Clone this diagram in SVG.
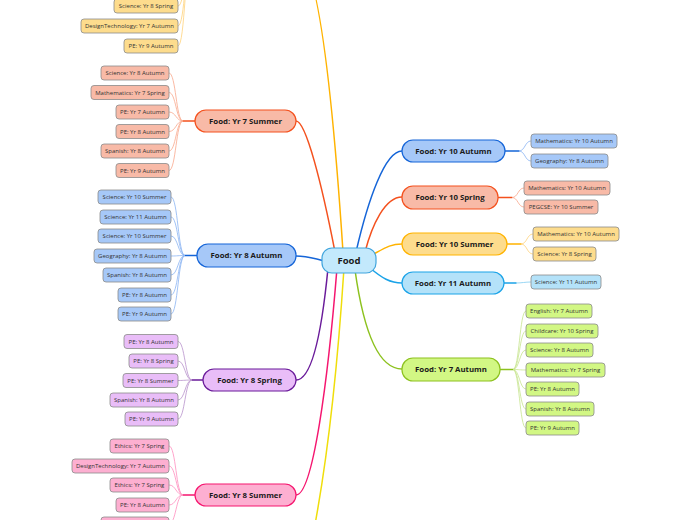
<svg xmlns="http://www.w3.org/2000/svg" width="697" height="520" viewBox="0 0 697 520">
<style>
.bg{fill:#ffffff}
.br{fill:none;stroke-width:1.5;stroke-linecap:round}
.cc{fill:none;stroke-width:0.8}
.ch rect{stroke:#8a8a8a;stroke-width:0.8}
.ch text{font-family:"Open Sans","Noto Sans",sans-serif;font-size:6px;fill:#333333;text-anchor:middle}
.mn rect{stroke-width:1.2}
.mn text{font-family:"Open Sans","Noto Sans",sans-serif;font-size:7.8px;font-weight:bold;fill:#1a1a1a;text-anchor:middle}
.sal rect{fill:#F8BAA7}
.blu rect{fill:#A6C8F8}
.yel rect{fill:#FDDC8D}
.lbl rect{fill:#B4E2F9}
.grn rect{fill:#D2F784}
.pur rect{fill:#E9BDF8}
.pnk rect{fill:#FDAFD1}
</style>
<rect class="bg" x="0" y="0" width="697" height="520"/>
<g id="connectors">
  <!-- main branches -->
  <path class="br" stroke="#FFB300" d="M343,252 C333,100 318,-45 296,-45"/>
  <path class="br" stroke="#F4511E" d="M335,252 C322,185 306,121 296,121"/>
  <path class="br" stroke="#1565D8" d="M325,261 C315,259 308,256 296,256"/>
  <path class="br" stroke="#6A1B9A" d="M328,268 C322,330 312,380 296,380"/>
  <path class="br" stroke="#F5166F" d="M337,268 C328,380 313,495 296,495"/>
  <path class="br" stroke="#F0DE0A" d="M344,268 C338,360 328,460 312,540"/>
  <path class="br" stroke="#1565D8" d="M356,252 C368,200 385,151 402,151"/>
  <path class="br" stroke="#F4511E" d="M365,252 C372,225 385,197 402,197"/>
  <path class="br" stroke="#FFB300" d="M370,256 C385,248 390,244 402,244"/>
  <path class="br" stroke="#1AA3E8" d="M370,268 C382,278 390,283 402,283"/>
  <path class="br" stroke="#8DC21F" d="M355,270 C362,320 375,369 402,369"/>
  <!-- top yellow group -->
  <g stroke="#FFD27A">
    <path class="cc" d="M178,6 C185,6 185,-45 192,-45"/>
    <path class="cc" d="M178,26 C185,26 185,-45 192,-45"/>
    <path class="cc" d="M178,46 C185,46 185,-45 192,-45"/>
  </g>
  <!-- Yr 7 Summer -->
  <path class="br" stroke="#F4511E" d="M195,121 H183"/>
  <g stroke="#F9A78C">
    <path class="cc" d="M169,73 C176,73 176,121 183,121"/>
    <path class="cc" d="M169,92.5 C176,92.5 176,121 183,121"/>
    <path class="cc" d="M169,112 C176,112 176,121 183,121"/>
    <path class="cc" d="M169,131.5 C176,131.5 176,121 183,121"/>
    <path class="cc" d="M169,151 C176,151 176,121 183,121"/>
    <path class="cc" d="M169,170.5 C176,170.5 176,121 183,121"/>
  </g>
  <!-- Yr 8 Autumn -->
  <path class="br" stroke="#1565D8" d="M197,255.5 H185"/>
  <g stroke="#8AB4F2">
    <path class="cc" d="M171,197 C178,197 178,255.5 185,255.5"/>
    <path class="cc" d="M171,217 C178,217 178,255.5 185,255.5"/>
    <path class="cc" d="M171,236 C178,236 178,255.5 185,255.5"/>
    <path class="cc" d="M171,256 C178,256 178,255.5 185,255.5"/>
    <path class="cc" d="M171,275 C178,275 178,255.5 185,255.5"/>
    <path class="cc" d="M171,295 C178,295 178,255.5 185,255.5"/>
    <path class="cc" d="M171,314 C178,314 178,255.5 185,255.5"/>
  </g>
  <!-- Yr 8 Spring -->
  <path class="br" stroke="#6A1B9A" d="M203,380 H192"/>
  <g stroke="#B892CC">
    <path class="cc" d="M178,341.5 C185,341.5 185,380 192,380"/>
    <path class="cc" d="M178,361 C185,361 185,380 192,380"/>
    <path class="cc" d="M178,380.5 C185,380.5 185,380 192,380"/>
    <path class="cc" d="M178,400 C185,400 185,380 192,380"/>
    <path class="cc" d="M178,419 C185,419 185,380 192,380"/>
  </g>
  <!-- Yr 8 Summer -->
  <path class="br" stroke="#F5166F" d="M195,495 H183"/>
  <g stroke="#FF8DBE">
    <path class="cc" d="M169,446 C176,446 176,495 183,495"/>
    <path class="cc" d="M169,466 C176,466 176,495 183,495"/>
    <path class="cc" d="M169,485 C176,485 176,495 183,495"/>
    <path class="cc" d="M169,505 C176,505 176,495 183,495"/>
    <path class="cc" d="M169,524 C176,524 176,495 183,495"/>
  </g>
  <!-- Yr 10 Autumn -->
  <path class="br" stroke="#1565D8" d="M505,151 H519"/>
  <g stroke="#8AB4F2">
    <path class="cc" d="M519,151 C525,151 525,141 531,141"/>
    <path class="cc" d="M519,151 C525,151 525,161 531,161"/>
  </g>
  <!-- Yr 10 Spring -->
  <path class="br" stroke="#F4511E" d="M498,197.5 H512"/>
  <g stroke="#F9A78C">
    <path class="cc" d="M512,197.5 C518,197.5 518,188 524,188"/>
    <path class="cc" d="M512,197.5 C518,197.5 518,207 524,207"/>
  </g>
  <!-- Yr 10 Summer -->
  <path class="br" stroke="#FFB300" d="M507,244 H521"/>
  <g stroke="#FFD27A">
    <path class="cc" d="M521,244 C527,244 527,234 533,234"/>
    <path class="cc" d="M521,244 C527,244 527,254 533,254"/>
  </g>
  <!-- Yr 11 Autumn -->
  <path class="br" stroke="#1AA3E8" d="M504,283 H516"/>
  <path class="cc" stroke="#7FCBF0" d="M516,283 C522,283 525,282 531,282"/>
  <!-- Yr 7 Autumn -->
  <path class="br" stroke="#8DC21F" d="M500,369.5 H513"/>
  <g stroke="#C6E58E">
    <path class="cc" d="M513,369.5 C519.5,369.5 519.5,311 526,311"/>
    <path class="cc" d="M513,369.5 C519.5,369.5 519.5,331 526,331"/>
    <path class="cc" d="M513,369.5 C519.5,369.5 519.5,350 526,350"/>
    <path class="cc" d="M513,369.5 C519.5,369.5 519.5,370 526,370"/>
    <path class="cc" d="M513,369.5 C519.5,369.5 519.5,389 526,389"/>
    <path class="cc" d="M513,369.5 C519.5,369.5 519.5,409 526,409"/>
    <path class="cc" d="M513,369.5 C519.5,369.5 519.5,428 526,428"/>
  </g>
</g>

<!-- center -->
<g id="food">
  <rect x="322" y="248" width="54" height="25" rx="10" fill="#C3E9FC" stroke="#41A5DD" stroke-width="1.2"/>
  <text x="349" y="264" font-family="Open Sans, Noto Sans, sans-serif" font-size="9.5" font-weight="bold" fill="#1a1a1a" text-anchor="middle">Food</text>
</g>

<!-- main nodes -->
<g id="yr7summer" class="mn sal"><rect x="195" y="110" width="101" height="22" rx="11" stroke="#F4511E"/><text x="245.5" y="123.8">Food: Yr 7 Summer</text></g>
<g id="yr8autumn" class="mn blu"><rect x="197" y="244" width="99" height="23" rx="11" stroke="#1565D8"/><text x="246.5" y="258.3">Food: Yr 8 Autumn</text></g>
<g id="yr8spring" class="mn pur"><rect x="203" y="369" width="93" height="22" rx="11" stroke="#6A1B9A"/><text x="249.5" y="382.8">Food: Yr 8 Spring</text></g>
<g id="yr8summer" class="mn pnk"><rect x="195" y="484" width="101" height="22" rx="11" stroke="#F5166F"/><text x="245.5" y="497.8">Food: Yr 8 Summer</text></g>
<g id="yr10autumn" class="mn blu"><rect x="402" y="140" width="103" height="22" rx="11" stroke="#1565D8"/><text x="453.5" y="153.8">Food: Yr 10 Autumn</text></g>
<g id="yr10spring" class="mn sal"><rect x="402" y="186" width="96" height="23" rx="11" stroke="#F4511E"/><text x="450" y="200.3">Food: Yr 10 Spring</text></g>
<g id="yr10summer" class="mn yel"><rect x="402" y="233" width="105" height="22" rx="11" stroke="#FFB300"/><text x="454.5" y="246.8">Food: Yr 10 Summer</text></g>
<g id="yr11autumn" class="mn lbl"><rect x="402" y="272" width="102" height="22" rx="11" stroke="#1AA3E8"/><text x="453" y="285.8">Food: Yr 11 Autumn</text></g>
<g id="yr7autumn" class="mn grn"><rect x="402" y="358" width="98" height="23" rx="11" stroke="#8DC21F"/><text x="451" y="372.3">Food: Yr 7 Autumn</text></g>

<!-- top yellow group children -->
<g id="c-top-1" class="ch yel"><rect x="114" y="-1" width="64" height="14" rx="3"/><text x="146" y="8.1">Science: Yr 8 Spring</text></g>
<g id="c-top-2" class="ch yel"><rect x="81" y="19" width="97" height="14" rx="3"/><text x="129.5" y="28.1">DesignTechnology: Yr 7 Autumn</text></g>
<g id="c-top-3" class="ch yel"><rect x="124" y="39" width="54" height="14" rx="3"/><text x="151" y="48.1">PE: Yr 9 Autumn</text></g>

<!-- Yr 7 Summer children -->
<g id="c-7s-1" class="ch sal"><rect x="101" y="66" width="68" height="14" rx="3"/><text x="135" y="75.1">Science: Yr 8 Autumn</text></g>
<g id="c-7s-2" class="ch sal"><rect x="91" y="85.5" width="78" height="14" rx="3"/><text x="130" y="94.6">Mathematics: Yr 7 Spring</text></g>
<g id="c-7s-3" class="ch sal"><rect x="116" y="105" width="53" height="14" rx="3"/><text x="142.5" y="114.1">PE: Yr 7 Autumn</text></g>
<g id="c-7s-4" class="ch sal"><rect x="116" y="124.5" width="53" height="14" rx="3"/><text x="142.5" y="133.6">PE: Yr 8 Autumn</text></g>
<g id="c-7s-5" class="ch sal"><rect x="101" y="144" width="68" height="14" rx="3"/><text x="135" y="153.1">Spanish: Yr 8 Autumn</text></g>
<g id="c-7s-6" class="ch sal"><rect x="116" y="163.5" width="53" height="14" rx="3"/><text x="142.5" y="172.6">PE: Yr 9 Autumn</text></g>

<!-- Yr 8 Autumn children -->
<g id="c-8a-1" class="ch blu"><rect x="98" y="190" width="73" height="14" rx="3"/><text x="134.5" y="199.1">Science: Yr 10 Summer</text></g>
<g id="c-8a-2" class="ch blu"><rect x="100" y="210" width="71" height="14" rx="3"/><text x="135.5" y="219.1">Science: Yr 11 Autumn</text></g>
<g id="c-8a-3" class="ch blu"><rect x="98" y="229" width="73" height="14" rx="3"/><text x="134.5" y="238.1">Science: Yr 10 Summer</text></g>
<g id="c-8a-4" class="ch blu"><rect x="94" y="249" width="77" height="14" rx="3"/><text x="132.5" y="258.1">Geography: Yr 8 Autumn</text></g>
<g id="c-8a-5" class="ch blu"><rect x="103" y="268" width="68" height="14" rx="3"/><text x="137" y="277.1">Spanish: Yr 8 Autumn</text></g>
<g id="c-8a-6" class="ch blu"><rect x="118" y="288" width="53" height="14" rx="3"/><text x="144.5" y="297.1">PE: Yr 8 Autumn</text></g>
<g id="c-8a-7" class="ch blu"><rect x="118" y="307" width="53" height="14" rx="3"/><text x="144.5" y="316.1">PE: Yr 9 Autumn</text></g>

<!-- Yr 8 Spring children -->
<g id="c-8sp-1" class="ch pur"><rect x="124" y="334.5" width="54" height="14" rx="3"/><text x="151" y="343.6">PE: Yr 8 Autumn</text></g>
<g id="c-8sp-2" class="ch pur"><rect x="129" y="354" width="49" height="14" rx="3"/><text x="153.5" y="363.1">PE: Yr 8 Spring</text></g>
<g id="c-8sp-3" class="ch pur"><rect x="123" y="373.5" width="55" height="14" rx="3"/><text x="150.5" y="382.6">PE: Yr 8 Summer</text></g>
<g id="c-8sp-4" class="ch pur"><rect x="110" y="393" width="68" height="14" rx="3"/><text x="144" y="402.1">Spanish: Yr 8 Autumn</text></g>
<g id="c-8sp-5" class="ch pur"><rect x="125" y="412" width="53" height="14" rx="3"/><text x="151.5" y="421.1">PE: Yr 9 Autumn</text></g>

<!-- Yr 8 Summer children -->
<g id="c-8su-1" class="ch pnk"><rect x="110" y="439" width="59" height="14" rx="3"/><text x="139.5" y="448.1">Ethics: Yr 7 Spring</text></g>
<g id="c-8su-2" class="ch pnk"><rect x="72" y="459" width="97" height="14" rx="3"/><text x="120.5" y="468.1">DesignTechnology: Yr 7 Autumn</text></g>
<g id="c-8su-3" class="ch pnk"><rect x="110" y="478" width="59" height="14" rx="3"/><text x="139.5" y="487.1">Ethics: Yr 7 Spring</text></g>
<g id="c-8su-4" class="ch pnk"><rect x="116" y="498" width="53" height="14" rx="3"/><text x="142.5" y="507.1">PE: Yr 8 Autumn</text></g>
<g id="c-8su-5" class="ch pnk"><rect x="101" y="517" width="68" height="14" rx="3"/></g>

<!-- Yr 10 Autumn children -->
<g id="c-10a-1" class="ch blu"><rect x="531" y="134" width="86" height="14" rx="3"/><text x="574" y="143.1">Mathematics: Yr 10 Autumn</text></g>
<g id="c-10a-2" class="ch blu"><rect x="531" y="154" width="77" height="14" rx="3"/><text x="569.5" y="163.1">Geography: Yr 8 Autumn</text></g>

<!-- Yr 10 Spring children -->
<g id="c-10sp-1" class="ch sal"><rect x="524" y="181" width="86" height="14" rx="3"/><text x="567" y="190.1">Mathematics: Yr 10 Autumn</text></g>
<g id="c-10sp-2" class="ch sal"><rect x="524" y="200" width="74" height="14" rx="3"/><text x="561" y="209.1">PEGCSE: Yr 10 Summer</text></g>

<!-- Yr 10 Summer children -->
<g id="c-10su-1" class="ch yel"><rect x="533" y="227" width="86" height="14" rx="3"/><text x="576" y="236.1">Mathematics: Yr 10 Autumn</text></g>
<g id="c-10su-2" class="ch yel"><rect x="533" y="247" width="63" height="14" rx="3"/><text x="564.5" y="256.1">Science: Yr 8 Spring</text></g>

<!-- Yr 11 Autumn child -->
<g id="c-11a-1" class="ch lbl"><rect x="531" y="275" width="70" height="14" rx="3"/><text x="566" y="284.1">Science: Yr 11 Autumn</text></g>

<!-- Yr 7 Autumn children -->
<g id="c-7a-1" class="ch grn"><rect x="526" y="304" width="66" height="14" rx="3"/><text x="559" y="313.1">English: Yr 7 Autumn</text></g>
<g id="c-7a-2" class="ch grn"><rect x="526" y="324" width="72" height="14" rx="3"/><text x="562" y="333.1">Childcare: Yr 10 Spring</text></g>
<g id="c-7a-3" class="ch grn"><rect x="526" y="343" width="67" height="14" rx="3"/><text x="559.5" y="352.1">Science: Yr 8 Autumn</text></g>
<g id="c-7a-4" class="ch grn"><rect x="526" y="363" width="79" height="14" rx="3"/><text x="565.5" y="372.1">Mathematics: Yr 7 Spring</text></g>
<g id="c-7a-5" class="ch grn"><rect x="526" y="382" width="53" height="14" rx="3"/><text x="552.5" y="391.1">PE: Yr 8 Autumn</text></g>
<g id="c-7a-6" class="ch grn"><rect x="526" y="402" width="68" height="14" rx="3"/><text x="560" y="411.1">Spanish: Yr 8 Autumn</text></g>
<g id="c-7a-7" class="ch grn"><rect x="526" y="421" width="53" height="14" rx="3"/><text x="552.5" y="430.1">PE: Yr 9 Autumn</text></g>
</svg>
